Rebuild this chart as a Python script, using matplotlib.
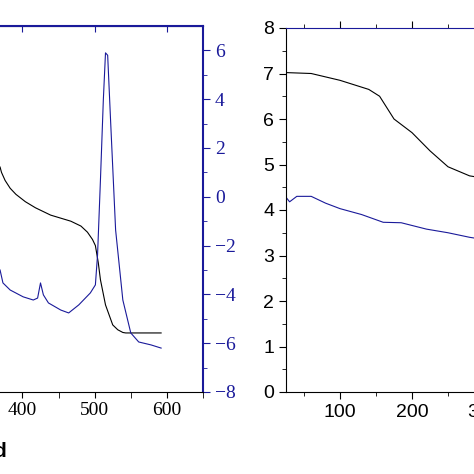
import matplotlib
matplotlib.use("Agg")
import matplotlib.pyplot as plt

# left panel (only right part visible)
l_black_x = [369, 371, 376, 383, 391, 404, 418, 439, 467, 481, 490, 497, 501, 505, 508, 515, 525, 532, 539, 543, 592]
l_black_y = [1.22, 1.0, 0.67, 0.35, 0.1, -0.2, -0.45, -0.75, -1.0, -1.2, -1.45, -1.75, -2.0, -2.7, -3.4, -4.43, -5.25, -5.45, -5.56, -5.58, -5.58]
l_blue_x = [369, 373, 383, 401, 415, 421, 425, 429, 436, 453, 464, 478, 494, 501, 504, 508, 512, 515,
            518, 522, 529, 539, 550, 561, 578, 592]
l_blue_y = [-3.0, -3.53, -3.82, -4.1, -4.23, -4.15, -3.53, -4.02, -4.35, -4.64, -4.76, -4.43, -3.94, -3.61,
            -2.38, 0.69, 3.97, 5.9, 5.8, 3.15, -1.36, -4.23, -5.58, -5.95, -6.07, -6.2]

# right panel
r_black_x = [25, 60, 100, 140, 155, 175, 200, 225, 250, 280, 300]
r_black_y = [7.02, 7.0, 6.85, 6.65, 6.5, 6.0, 5.7, 5.3, 4.95, 4.75, 4.7]
r_blue_x = [25, 30, 40, 60, 80, 100, 130, 160, 185, 220, 250, 280, 300]
r_blue_y = [4.28, 4.18, 4.3, 4.3, 4.15, 4.03, 3.9, 3.73, 3.72, 3.58, 3.5, 3.4, 3.35]

W = 474
fig = plt.figure(figsize=(4.74, 4.74), dpi=100)
navy = "#1a1a9a"

# left axes: x from 200..650 mapped to px -122..203
ax1 = fig.add_axes([-122 / W, 82 / W, 325 / W, 366 / W])
ax1.set_xlim(200, 650)
ax1.set_ylim(-8, 7)
ax1.plot(l_black_x, l_black_y, color="black", lw=0.8)
ax1.plot(l_blue_x, l_blue_y, color=navy, lw=0.8)
ax1.yaxis.tick_right()
ax1.set_yticks(range(-8, 7, 2))
ax1.set_yticks(range(-7, 7, 2), minor=True)
ax1.set_xticks([300, 400, 500, 600])
ax1.set_xticks([350, 450, 550, 650], minor=True)
ax1.tick_params(axis="y", which="both", colors=navy, direction="out")
ax1.tick_params(axis="y", which="major", length=5)
ax1.tick_params(axis="y", which="minor", length=3)
ax1.tick_params(axis="x", which="both", direction="out", length=4)
for lab in ax1.get_yticklabels() + ax1.get_xticklabels():
    lab.set_family("Liberation Serif")
    lab.set_fontsize(14)
for lab in ax1.get_yticklabels():
    lab.set_color(navy)
ax1.spines["right"].set_color(navy)
ax1.spines["right"].set_linewidth(1.5)
ax1.spines["top"].set_color(navy)
ax1.spines["top"].set_linewidth(1.5)
ax1.secondary_xaxis("top").tick_params(direction="in", length=4, labeltop=False, colors=navy)

# right axes: x from 25 at px 286
ax2 = fig.add_axes([286 / W, 82 / W, 300 / W, 364 / W])
ax2.set_xlim(25, 25 + 300 / 0.72)
ax2.set_ylim(0, 8)
ax2.plot(r_black_x, r_black_y, color="black", lw=0.8)
ax2.plot(r_blue_x, r_blue_y, color=navy, lw=0.8)
ax2.set_xticks([100, 200, 300, 400])
ax2.set_xticks([50, 150, 250, 350], minor=True)
ax2.set_yticks(range(0, 9))
ax2.set_yticks([i + 0.5 for i in range(8)], minor=True)
ax2.tick_params(axis="both", which="major", direction="out", length=5)
ax2.tick_params(axis="both", which="minor", direction="out", length=3)
ax2.tick_params(axis="x", which="both", top=True)
ax2.spines["top"].set_color(navy)
for lab in ax2.get_yticklabels() + ax2.get_xticklabels():
    lab.set_family("Liberation Sans")
    lab.set_fontsize(14)

fig.text(0.0, 0.035, "d", fontsize=15, fontweight="bold", ha="center", family="Liberation Sans")

fig.savefig("out.png", dpi=100)
